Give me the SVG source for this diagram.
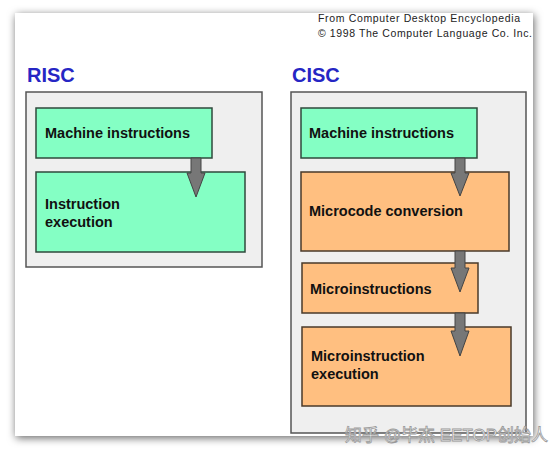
<svg xmlns="http://www.w3.org/2000/svg" width="551" height="455" viewBox="0 0 551 455">
<defs>
<filter id="sh" x="-10%" y="-10%" width="120%" height="120%">
<feDropShadow dx="1" dy="2" stdDeviation="4" flood-color="#000" flood-opacity="0.6"/>
</filter>
<style>
.lbl{font-family:"Liberation Sans",Arial,sans-serif;font-weight:bold;font-size:20px;fill:#2626c4}
.cap{font-family:"Liberation Sans",Arial,sans-serif;font-size:10.5px;fill:#222}
.frame{fill:#efefef;stroke:#555;stroke-width:1.5}
.green{fill:#84ffc4;stroke:#2f4a3c;stroke-width:1.5}
.orange{fill:#ffbf80;stroke:#4a3a2a;stroke-width:1.5}
.t{font-family:"Liberation Sans",Arial,sans-serif;font-weight:bold;font-size:14.5px;fill:#111}
.arr{fill:#777;stroke:#444;stroke-width:1}
.wm{font-family:"Liberation Sans","Noto Sans CJK SC",sans-serif;font-size:17px;fill:#fff;stroke:#999;stroke-width:0.8}
</style>
</defs>
<rect x="0" y="0" width="551" height="455" fill="#fff"/>
<rect x="15" y="13" width="518" height="423" fill="#fff" filter="url(#sh)"/>
<g id="caption">
<text class="cap" x="318" y="22" textLength="202">From Computer Desktop Encyclopedia</text>
<text class="cap" x="318" y="37" textLength="214">© 1998 The Computer Language Co. Inc.</text>
</g>
<g id="risc">
<text class="lbl" x="27" y="82">RISC</text>
<rect class="frame" x="26" y="92" width="236" height="175"/>
</g>
<g id="cisc">
<text class="lbl" x="292" y="82">CISC</text>
<rect class="frame" x="291" y="92" width="235" height="341"/>
</g>
<g id="risc-machine">
<rect class="green" x="36" y="108" width="176" height="50"/>
<text class="t" x="45" y="138">Machine instructions</text>
</g>
<g id="risc-exec">
<rect class="green" x="36" y="172" width="209" height="80"/>
<text class="t" x="45" y="209">Instruction</text>
<text class="t" x="45" y="227">execution</text>
</g>
<g id="cisc-machine">
<rect class="green" x="301" y="108" width="176" height="50"/>
<text class="t" x="309" y="138">Machine instructions</text>
</g>
<g id="cisc-microcode">
<rect class="orange" x="301" y="172" width="208" height="79"/>
<text class="t" x="309" y="216">Microcode conversion</text>
</g>
<g id="cisc-microinstr">
<rect class="orange" x="302" y="263" width="176" height="50"/>
<text class="t" x="310" y="294">Microinstructions</text>
</g>
<g id="cisc-exec">
<rect class="orange" x="302" y="327" width="209" height="79"/>
<text class="t" x="311" y="361">Microinstruction</text>
<text class="t" x="311" y="379">execution</text>
</g>
<g id="connectors">
<path class="arr" d="M191,158 L201,158 L201,173 L205,173 L196,197 L187,173 L191,173 Z"/>
<path class="arr" d="M455,158 L465,158 L465,173 L469,173 L460,196 L451,173 L455,173 Z"/>
<path class="arr" d="M455,251 L465,251 L465,268 L469,268 L460,292 L451,268 L455,268 Z"/>
<path class="arr" d="M455,313 L465,313 L465,331 L469,331 L460,356 L451,331 L455,331 Z"/>
</g>
<g id="watermark">
<text class="wm" x="345" y="441">知乎 @毕杰 EETOP创始人</text>
</g>
</svg>
